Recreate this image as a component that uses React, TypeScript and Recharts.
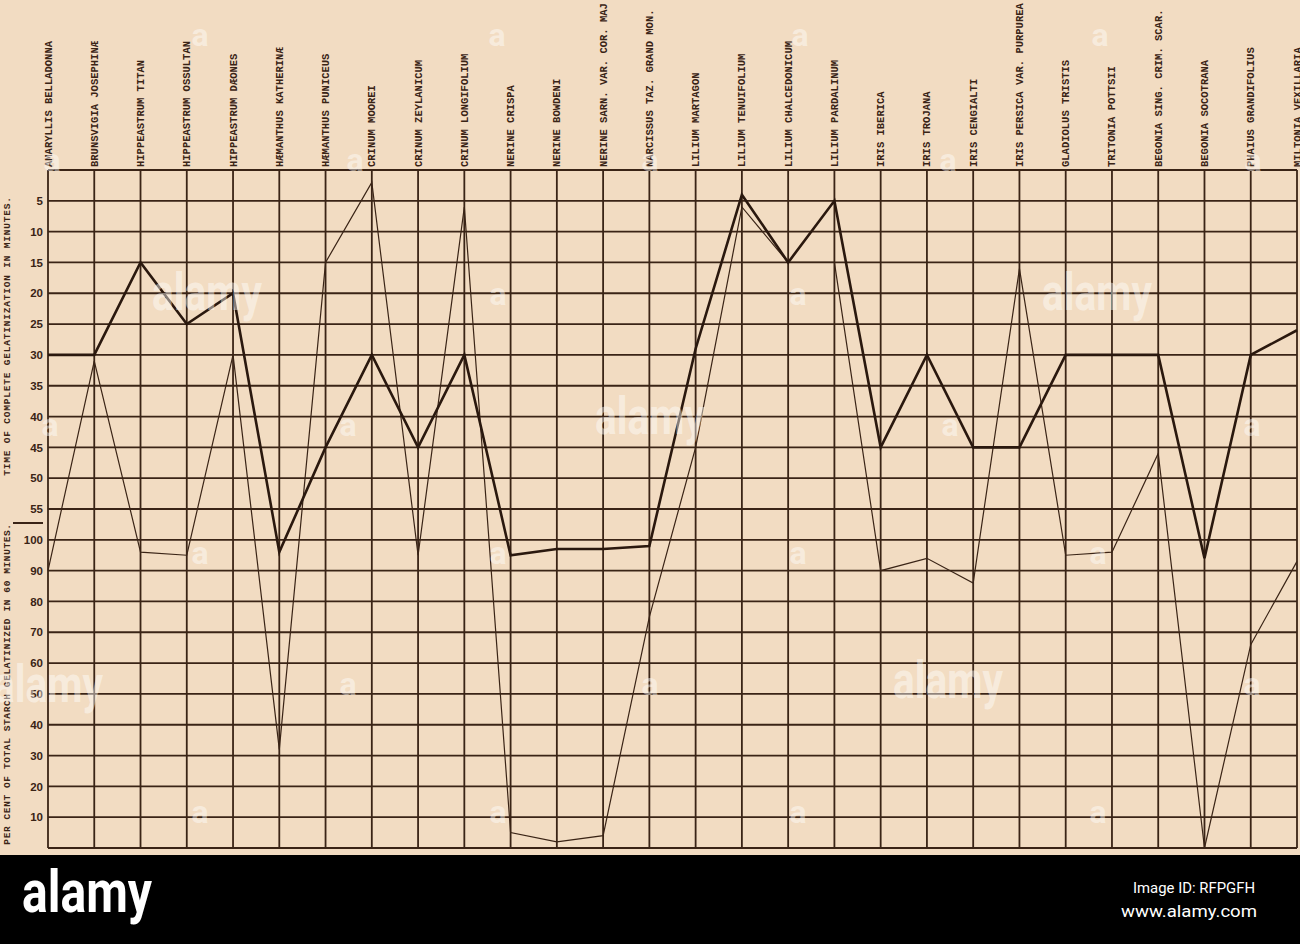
import { CartesianGrid, Line, LineChart, XAxis, YAxis } from "recharts";

const categories = [
  "AMARYLLIS BELLADONNA",
  "BRUNSVIGIA JOSEPHINÆ",
  "HIPPEASTRUM TITAN",
  "HIPPEASTRUM OSSULTAN",
  "HIPPEASTRUM DÆONES",
  "HÆMANTHUS KATHERINÆ",
  "HÆMANTHUS PUNICEUS",
  "CRINUM MOOREI",
  "CRINUM ZEYLANICUM",
  "CRINUM LONGIFOLIUM",
  "NERINE CRISPA",
  "NERINE BOWDENI",
  "NERINE SARN. VAR. COR. MAJ",
  "NARCISSUS TAZ. GRAND MON.",
  "LILIUM MARTAGON",
  "LILIUM TENUIFOLIUM",
  "LILIUM CHALCEDONICUM",
  "LILIUM PARDALINUM",
  "IRIS IBERICA",
  "IRIS TROJANA",
  "IRIS CENGIALTI",
  "IRIS PERSICA VAR. PURPUREA",
  "GLADIOLUS TRISTIS",
  "TRITONIA POTTSII",
  "BEGONIA SING. CRIM. SCAR.",
  "BEGONIA SOCOTRANA",
  "PHAIUS GRANDIFOLIUS",
  "MILTONIA VEXILLARIA",
];

// each point is either a time (complete within 60 min) or a per cent gelatinized at 60 min
const thickMinutes = [30, 30, 15, 25, 20, null, 45, 30, 45, 30, null, null, null, null, 29, 4, 15, 5, 45, 30, 45, 45, 30, 30, 30, null, 30, 26];
const thickPercent = [null, null, null, null, null, 96, null, null, null, null, 95, 97, 97, 98, null, null, null, null, null, null, null, null, null, null, null, 94, null, null];
const thinMinutes = [null, 31, null, null, 30, null, 15, 2, null, 6, null, null, null, null, 45, 6, 15, 15, null, null, null, 16, null, null, 46, null, null, null];
const thinPercent = [90, null, 96, 95, null, 32, null, null, 95, null, 5, 2, 4, 75, null, null, null, null, 90, 94, 86, null, 95, 96, null, 0, 66, 93];

const minuteTicks = [5, 10, 15, 20, 25, 30, 35, 40, 45, 50, 55];
const percentTicks = [100, 90, 80, 70, 60, 50, 40, 30, 20, 10];

const ROWS = 22;
const minuteRow = (m: number) => m / 5;
const percentRow = (p: number) => ROWS - p / 10;
const toRow = (m: number | null, p: number | null) =>
  m != null ? minuteRow(m) : percentRow(p as number);

const data = categories.map((name, i) => ({
  idx: i,
  name,
  thick: toRow(thickMinutes[i], thickPercent[i]),
  thin: toRow(thinMinutes[i], thinPercent[i]),
}));

const rowLabels = new Map<number, string>();
minuteTicks.forEach((m) => rowLabels.set(minuteRow(m), String(m)));
percentTicks.forEach((p) => rowLabels.set(percentRow(p), String(p)));
const yTicks = Array.from({ length: ROWS + 1 }, (_, i) => i);
const xTicks = categories.map((_, i) => i);

const PAPER = "#f2dcc2";
const INK = "#3a2416";
const PLOT_TOP = 170;
const PLOT_LEFT = 48;

function CategoryTick({ x, payload }: any) {
  return (
    <text
      transform={`translate(${x + 3.5},${PLOT_TOP - 3}) rotate(-90)`}
      fontFamily="Liberation Mono"
      fontWeight="bold"
      fontSize={10.5}
      fill={INK}
      textAnchor="start"
    >
      {categories[payload.value]}
    </text>
  );
}

function RowTick({ y, payload }: any) {
  return (
    <text
      x={PLOT_LEFT - 5}
      y={y}
      dy="0.36em"
      textAnchor="end"
      fontFamily="Liberation Sans"
      fontWeight="bold"
      fontSize={11.5}
      fill={INK}
    >
      {rowLabels.get(payload.value) ?? ""}
    </text>
  );
}

const markA = [
  [200, 35], [497, 35], [800, 35], [1100, 35],
  [52, 160], [355, 160], [650, 160], [948, 160], [1253, 160],
  [498, 294], [798, 294],
  [50, 425], [348, 425], [950, 425], [1252, 425],
  [200, 553], [498, 553], [798, 553], [1098, 553],
  [348, 684], [650, 684], [1252, 684],
  [200, 812], [498, 812], [798, 812], [1098, 812],
];
const markAlamy = [
  [207, 296], [1097, 296], [650, 420], [48, 688], [948, 684],
];

export default function App() {
  return (
    <div
      style={{
        position: "absolute",
        left: 0,
        top: 0,
        width: 1300,
        height: 944,
        background: PAPER,
        overflow: "hidden",
      }}
    >
      <LineChart
        width={1300}
        height={855}
        data={data}
        margin={{ top: 0, right: 3, bottom: 7, left: 0 }}
      >
        <CartesianGrid stroke={INK} strokeWidth={1.8} />
        <XAxis
          dataKey="idx"
          type="number"
          orientation="top"
          domain={[0, categories.length - 1]}
          ticks={xTicks}
          interval={0}
          height={PLOT_TOP}
          axisLine={false}
          tickLine={false}
          tick={<CategoryTick />}
        />
        <YAxis
          type="number"
          domain={[0, ROWS]}
          reversed
          ticks={yTicks}
          interval={0}
          width={PLOT_LEFT}
          axisLine={false}
          tickLine={false}
          tick={<RowTick />}
        />
        <Line
          type="linear"
          dataKey="thin"
          stroke={INK}
          strokeWidth={1.2}
          dot={false}
          isAnimationActive={false}
        />
        <Line
          type="linear"
          dataKey="thick"
          stroke="#2a180e"
          strokeWidth={2.6}
          dot={false}
          isAnimationActive={false}
        />
      </LineChart>

      <svg
        width={1300}
        height={944}
        style={{ position: "absolute", left: 0, top: 0, pointerEvents: "none" }}
      >
        <text
          transform="translate(10,336) rotate(-90)"
          textAnchor="middle"
          fontFamily="Liberation Mono"
          fontWeight="bold"
          fontSize={9.5}
          letterSpacing={0.8}
          fill={INK}
        >
          TIME OF COMPLETE GELATINIZATION IN MINUTES.
        </text>
        <line x1={13} x2={43} y1={523} y2={523} stroke={INK} strokeWidth={2} />
        <text
          transform="translate(10,684) rotate(-90)"
          textAnchor="middle"
          fontFamily="Liberation Mono"
          fontWeight="bold"
          fontSize={9.5}
          letterSpacing={0.6}
          fill={INK}
        >
          PER CENT OF TOTAL STARCH GELATINIZED IN 60 MINUTES.
        </text>

        {markA.map(([x, y], i) => (
          <text
            key={"a" + i}
            x={x}
            y={y + 11}
            textAnchor="middle"
            fontFamily="Roboto"
            fontWeight="bold"
            fontSize={32}
            fill="#fff"
            fillOpacity={0.45}
          >
            a
          </text>
        ))}
        {markAlamy.map(([x, y], i) => (
          <text
            key={"w" + i}
            x={x - 55}
            y={y + 14}
            textLength={110}
            lengthAdjust="spacingAndGlyphs"
            fontFamily="Roboto"
            fontWeight="bold"
            fontSize={52}
            fill="#fff"
            fillOpacity={0.45}
          >
            alamy
          </text>
        ))}

        <rect x={0} y={855} width={1300} height={89} fill="#000" />
        <text
          x={22}
          y={912}
          textLength={130}
          lengthAdjust="spacingAndGlyphs"
          fontFamily="Roboto"
          fontWeight="bold"
          fontSize={60}
          fill="#fff"
        >
          alamy
        </text>
        <text
          x={1133}
          y={893}
          textLength={122}
          lengthAdjust="spacingAndGlyphs"
          fontFamily="Roboto"
          fontSize={14}
          fill="#fff"
        >
          Image ID: RFPGFH
        </text>
        <text
          x={1121}
          y={917}
          textLength={136}
          lengthAdjust="spacingAndGlyphs"
          fontFamily="Roboto"
          fontSize={16}
          fill="#fff"
        >
          www.alamy.com
        </text>
      </svg>
    </div>
  );
}
